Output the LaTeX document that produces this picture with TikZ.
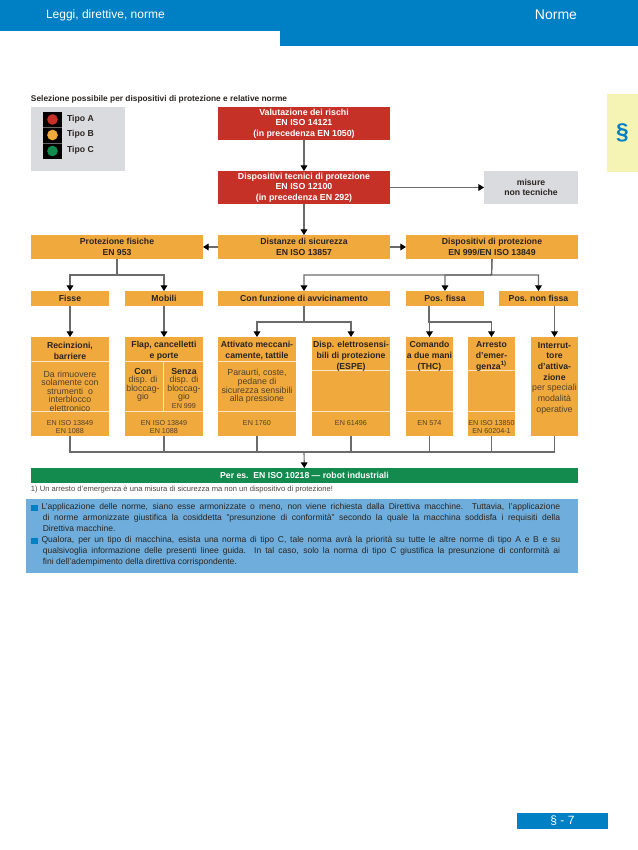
\documentclass[tikz,border=0pt]{standalone}
\usepackage{fontspec}
\setmainfont{Liberation Sans}
\usetikzlibrary{arrows.meta}
\definecolor{hdr}{HTML}{0080C4}
\definecolor{org}{HTML}{F0A93C}
\definecolor{rd}{HTML}{C53027}
\definecolor{grn}{HTML}{138A4E}
\definecolor{gry}{HTML}{D9DBDF}
\definecolor{lbl}{HTML}{6FAEDC}
\definecolor{yel}{HTML}{F6F4B4}
\definecolor{ink}{HTML}{2A2420}
\definecolor{bodyink}{HTML}{51422A}
\newcommand{\bx}[7]{%
  \pgfmathsetmacro\bw{(#5-#3)*0.75}%
  \pgfmathsetmacro\bh{(#6-#4)*0.75}%
  \node[#1,minimum width=\bw pt,minimum height=\bh pt] (#2) at ({(#3+#5)/2},{(#4+#6)/2}) {#7};}
\tikzset{
  x=0.75pt,y=-0.75pt,
  plain/.style={inner sep=0pt,outer sep=0pt,align=center},
  redbox/.style={plain,fill=rd,text=white,font=\fontsize{6.6}{8}\selectfont\bfseries},
  orgbox/.style={plain,fill=org,text=ink,font=\fontsize{6.5}{8.2}\selectfont\bfseries},
  grybox/.style={plain,fill=gry,text=ink,font=\fontsize{6.5}{8}\selectfont\bfseries},
  ttl/.style={plain,text=ink,font=\fontsize{6.5}{8.2}\selectfont\bfseries},
  bodytxt/.style={plain,text=bodyink,font=\fontsize{6.6}{6.4}\selectfont},
  stdtxt/.style={plain,text=bodyink,font=\fontsize{5.4}{6}\selectfont},
  sep/.style={draw=white!70!org,line width=0.5pt},
  conn/.style={draw=black!58,line width=0.85pt},
  arr/.style={conn,-{Triangle[length=4.2pt,width=5pt,color=black,fill=black]}},
}
\begin{document}
\begin{tikzpicture}
\useasboundingbox (0,0) rectangle (638,850);
% header
\fill[hdr] (0,0) rectangle (638,31);
\fill[hdr] (280,31) rectangle (638,46);
\node[plain,text=white,font=\fontsize{9}{10}\selectfont,anchor=west] (hl) at (46,15) {Leggi, direttive, norme};
\node[plain,text=white,font=\fontsize{10.5}{12}\selectfont,anchor=east] (hr) at (577,15) {Norme};
% paragraph tab
\bx{plain,fill=yel,text=hdr,font=\fontsize{17}{18}\selectfont\bfseries}{tab}{607}{94}{638}{172}{\S}
% title
\node[plain,text=ink,font=\fontsize{6.25}{7}\selectfont\bfseries,anchor=west] (title) at (31,99) {Selezione possibile per dispositivi di protezione e relative norme};
% legend
\bx{plain,fill=gry}{legend}{31}{107}{125}{171}{}
\bx{plain,fill=black}{light}{43}{112}{62}{159}{}
\draw[black!60!white,line width=0.3pt] (light.west |- 0,127) -- (light.east |- 0,127);
\draw[black!60!white,line width=0.3pt] (light.west |- 0,143) -- (light.east |- 0,143);
\node[plain,circle,fill=rd,minimum size=8pt] (la) at (52.5,119.5) {};
\node[plain,circle,fill=org,minimum size=8pt] (lb) at (52.5,135) {};
\node[plain,circle,fill=grn,minimum size=8pt] (lc) at (52.5,151) {};
\node[ttl,anchor=west] (ta) at (67,119) {Tipo A};
\node[ttl,anchor=west] (tb) at (67,134) {Tipo B};
\node[ttl,anchor=west] (tc) at (67,150) {Tipo C};
% top boxes
\bx{redbox}{val}{218}{107}{390}{140}{Valutazione dei rischi\\EN ISO 14121\\(in precedenza EN 1050)}
\bx{redbox}{tec}{218}{171}{390}{204}{Dispositivi tecnici di protezione\\EN ISO 12100\\(in precedenza EN 292)}
\bx{grybox}{mis}{484}{171}{578}{204}{misure\\non tecniche}
\bx{orgbox}{pro}{31}{235}{203}{259}{Protezione fisiche\\EN 953}
\bx{orgbox}{dis}{218}{235}{390}{259}{Distanze di sicurezza\\EN ISO 13857}
\bx{orgbox}{dip}{406}{235}{578}{259}{Dispositivi di protezione\\EN 999/EN ISO 13849}
\bx{orgbox}{fis}{31}{291}{109}{306}{Fisse}
\bx{orgbox}{mob}{125}{291}{203}{306}{Mobili}
\bx{orgbox}{con}{218}{291}{390}{306}{Con funzione di avvicinamento}
\bx{orgbox}{pfi}{406}{291}{484}{306}{Pos. fissa}
\bx{orgbox}{pnf}{499}{291}{578}{306}{Pos. non fissa}
% detail boxes
\bx{plain,fill=org}{rec}{31}{337}{109}{436}{}
\bx{plain,fill=org}{fla}{125}{337}{203}{436}{}
\bx{plain,fill=org}{att}{218}{337}{296}{436}{}
\bx{plain,fill=org}{esp}{312}{337}{390}{436}{}
\bx{plain,fill=org}{thc}{406}{337}{453}{436}{}
\bx{plain,fill=org}{arr}{468}{337}{515}{436}{}
\bx{plain,fill=org}{int}{531}{337}{578}{436}{}
% separators
\draw[sep] (rec.west |- 0,361) -- (rec.east |- 0,361);
\draw[sep] (fla.west |- 0,361) -- (fla.east |- 0,361);
\draw[sep] (att.west |- 0,361) -- (att.east |- 0,361);
\draw[sep] (esp.west |- 0,370) -- (esp.east |- 0,370);
\draw[sep] (thc.west |- 0,370) -- (thc.east |- 0,370);
\draw[sep] (arr.west |- 0,370) -- (arr.east |- 0,370);
\foreach \b in {rec,fla,att,esp,thc,arr}{\draw[sep] (\b.west |- 0,411) -- (\b.east |- 0,411);}
\draw[sep] (163,361) -- (163,411);
% detail text
\node[ttl] (t1) at (70,350.5) {Recinzioni,\\barriere};
\node[ttl] (t2) at (164,350.5) {Flap, cancelletti\\e porte};
\node[ttl] (t3) at (257,350.5) {Attivato meccani-\\camente, tattile};
\node[ttl] (t4) at (351,356) {Disp. elettrosensi-\\bili di protezione\\(ESPE)};
\node[ttl] (t5) at (429.5,356) {Comando\\a due mani\\(THC)};
\node[ttl] (t6) at (491.5,356) {Arresto\\d'emer-\\genza\textsuperscript{1)}};
\node[ttl] (t7) at (554.5,361.5) {Interrut-\\tore\\d'attiva-\\zione};
\node[bodytxt] (b1) at (70,391) {Da rimuovere\\solamente con\\strumenti\ \ o\\interblocco\\elettronico};
\node[bodytxt,align=center] (b2a) at (143,385) {\textbf{\textcolor{ink}{Con}}\\disp. di\\bloccag-\\gio};
\node[bodytxt,align=center] (b2b) at (184,385) {\textbf{\textcolor{ink}{Senza}}\\disp. di\\bloccag-\\gio};
\node[stdtxt] (b2c) at (184,406.5) {EN 999};
\node[bodytxt] (b3) at (257,386.5) {Paraurti, coste,\\pedane di\\sicurezza sensibili\\alla pressione};
\node[bodytxt,font=\fontsize{6.6}{8.2}\selectfont] (b7) at (554.5,399) {per speciali\\modalità\\operative};
\node[stdtxt] (n1) at (70,427) {EN ISO 13849\\EN 1088};
\node[stdtxt] (n2) at (164,427) {EN ISO 13849\\EN 1088};
\node[stdtxt] (n3) at (257,423) {EN 1760};
\node[stdtxt] (n4) at (351,423) {EN 61496};
\node[stdtxt] (n5) at (429.5,423) {EN 574};
\node[stdtxt] (n6) at (491.5,427) {EN ISO 13850\\EN 60204-1};
% result
\bx{plain,fill=grn,text=white,font=\fontsize{6.5}{8}\selectfont\bfseries}{res}{31}{468}{578}{483}{Per es.\ \ EN ISO 10218 --- robot industriali}
\node[plain,text=ink!85!white,font=\fontsize{5.7}{6}\selectfont,anchor=west] (foot) at (31,489) {1) Un arresto d'emergenza è una misura di sicurezza ma non un dispositivo di protezione!};
% blue note
\bx{plain,fill=lbl}{note}{26}{499}{578}{573}{}
\node[plain,fill=hdr,minimum size=4.8pt] (bu1) at (34.5,508) {};
\node[plain,fill=hdr,minimum size=4.8pt] (bu2) at (34.5,541) {};
\node[plain,anchor=north west,text=ink,text width=389pt,align=justify,font=\fontsize{6.4}{8.15}\selectfont] (notetxt) at (41.5,503.5) {%
L'applicazione delle norme, siano esse armonizzate o meno, non viene richiesta dalla Direttiva macchine. Tuttavia, l'applicazione\linebreak
\hspace*{1pt}di norme armonizzate giustifica la cosiddetta "presunzione di conformità" secondo la quale la macchina soddisfa i requisiti della\linebreak
\hspace*{1pt}Direttiva macchine.\par\nobreak
Qualora, per un tipo di macchina, esista una norma di tipo C, tale norma avrà la priorità su tutte le altre norme di tipo A e B e su\linebreak
\hspace*{1pt}qualsivoglia informazione delle presenti linee guida. In tal caso, solo la norma di tipo C giustifica la presunzione di conformità ai\linebreak
\hspace*{1pt}fini dell'adempimento della direttiva corrispondente.\par};
% page number
\bx{plain,fill=hdr,text=white,font=\fontsize{9}{10}\selectfont}{pg}{517}{813}{608}{829}{\S\ - 7}
% connector junction points
\coordinate (busa) at (117,275);
\coordinate (busb) at (491.5,275);
\coordinate (busc) at (304,322);
\coordinate (pfo) at (429,306);
\coordinate (busd) at (429,322);
\coordinate (pno) at (554.5,306);
\coordinate (bot) at (304,452);
% connectors
\draw[arr] (val) -- (tec);
\draw[arr] (tec) -- (dis);
\draw[arr] (tec) -- (mis);
\draw[arr] (dis) -- (pro);
\draw[arr] (dis) -- (dip);
\draw[arr] (pro.south) -- (busa) -| (fis.north);
\draw[arr] (pro.south) -- (busa) -| (mob.north);
\draw[arr] (dip.south) -- (busb) -| (pfi.north);
\draw[arr] (dip.south) -- (busb) -| (pnf.north);
\draw[arr] (dip.south) -- (busb) -| (con.north);
\draw[arr] (fis.south) -- (rec.north);
\draw[arr] (mob.south) -- (fla.north);
\draw[arr] (con.south) -- (busc) -| (att.north);
\draw[arr] (con.south) -- (busc) -| (esp.north);
\draw[arr] (pfo) -- (busd) -| (thc.north);
\draw[arr] (pfo) -- (busd) -| (arr.north);
\draw[arr] (pno) -- (int.north);
\foreach \b in {rec,fla,att,esp,thc,arr,int}{\draw[conn] (\b.south) |- (bot);}
\draw[arr] (bot) -- (res);
\end{tikzpicture}
\end{document}
